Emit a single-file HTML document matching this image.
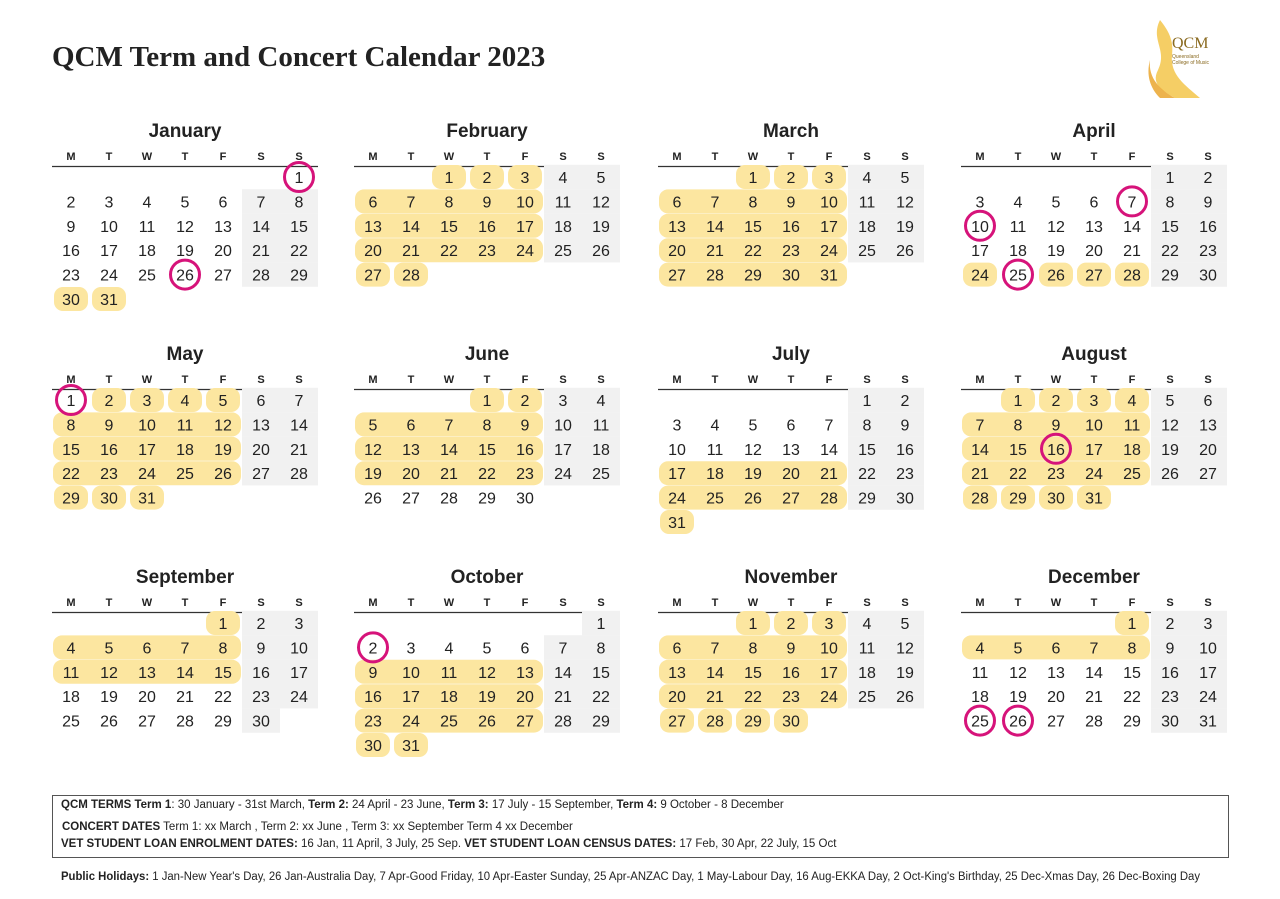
<!DOCTYPE html>
<html><head><meta charset="utf-8"><style>
body{margin:0;background:#fff;}
svg{display:block;font-family:"Liberation Sans",Arial,sans-serif;}
</style></head><body>
<svg id="s" width="1280" height="899" xmlns="http://www.w3.org/2000/svg">
<rect width="1280" height="899" fill="#fff"/>
<text x="52" y="66" font-family="Liberation Serif,serif" font-weight="bold" font-size="29" fill="#222">QCM Term and Concert Calendar 2023</text>
<g>
<path d="M1160 20 C1150 40 1168 50 1158 70 C1150 85 1165 92 1175 98 L1200 98 C1185 85 1170 75 1172 55 C1174 40 1168 30 1160 20Z" fill="#f3c64a" opacity="0.85"/>
<path d="M1150 60 C1148 78 1160 90 1175 98 L1160 98 C1150 88 1146 75 1150 60Z" fill="#e8a020" opacity="0.8"/>
<text x="1172" y="48" font-family="Liberation Serif,serif" font-size="16" fill="#8a6a20">QCM</text>
<text x="1172" y="58" font-size="5" fill="#8a6a20">Queensland</text>
<text x="1172" y="64" font-size="5" fill="#8a6a20">College of Music</text>
</g>
<g id="cal"></g>
<rect x="52.5" y="795.5" width="1176" height="62" fill="none" stroke="#555" stroke-width="1"/>
<text font-family="Liberation Sans Narrow,Liberation Sans,sans-serif" font-size="11.5" fill="#222">
<tspan x="61" y="808"><tspan font-weight="bold">QCM TERMS   Term 1</tspan>: 30 January - 31st March, <tspan font-weight="bold">Term 2:</tspan> 24 April - 23 June, <tspan font-weight="bold">Term 3:</tspan> 17 July - 15 September, <tspan font-weight="bold">Term 4:</tspan> 9 October - 8 December</tspan>
<tspan x="62" y="830"><tspan font-weight="bold">CONCERT DATES</tspan>  Term 1: xx March , Term 2: xx June , Term 3: xx September Term 4 xx December</tspan>
<tspan x="61" y="847"><tspan font-weight="bold">VET STUDENT LOAN ENROLMENT DATES:</tspan> 16 Jan, 11 April, 3 July, 25 Sep.  <tspan font-weight="bold">VET STUDENT LOAN CENSUS DATES:</tspan> 17 Feb, 30 Apr, 22 July, 15 Oct</tspan>
</text>
<text x="61" y="880" textLength="1139" lengthAdjust="spacingAndGlyphs" font-size="11.5" fill="#222"><tspan font-weight="bold">Public Holidays:</tspan> 1 Jan-New Year's Day, 26 Jan-Australia Day, 7 Apr-Good Friday, 10 Apr-Easter Sunday, 25 Apr-ANZAC Day, 1 May-Labour Day, 16 Aug-EKKA Day, 2 Oct-King's Birthday, 25 Dec-Xmas Day, 26 Dec-Boxing Day</text>
</svg>
<script>
(function(){
var NS="http://www.w3.org/2000/svg",g=document.getElementById("cal");
var names=["January","February","March","April","May","June","July","August","September","October","November","December"];
var dl=["M","T","W","T","F","S","S"];
var hol={"0-1":1,"0-26":1,"3-7":1,"3-10":1,"3-25":1,"4-1":1,"7-16":1,"9-2":1,"11-25":1,"11-26":1};
var terms=[[new Date(2023,0,30),new Date(2023,2,31)],[new Date(2023,3,24),new Date(2023,5,23)],[new Date(2023,6,17),new Date(2023,8,15)],[new Date(2023,9,9),new Date(2023,11,8)]];
function el(n,a,t){var e=document.createElementNS(NS,n);for(var k in a)e.setAttribute(k,a[k]);if(t!=null)e.textContent=t;g.appendChild(e);return e;}
var cx=[0,302,606,909];
var L1=[],L2=[],L3=[];
var Y="#fce6a0";
for(var m=0;m<12;m++){
 var ox=71+cx[m%4],oy=Math.floor(m/4)*223;
 el("text",{x:ox+114,y:oy+137,"text-anchor":"middle","font-weight":"bold","font-size":"19",fill:"#222"},names[m]);
 for(var i=0;i<7;i++)el("text",{x:ox+i*38,y:oy+160,"text-anchor":"middle","font-weight":"bold","font-size":"11",fill:"#222"},dl[i]);
 el("line",{x1:ox-19,y1:oy+166.5,x2:ox+247,y2:oy+166.5,stroke:"#333","stroke-width":"1.2"});
 var first=(new Date(2023,m,1).getDay()+6)%7,nd=new Date(2023,m+1,0).getDate();
 var rows={};
 for(var d=1;d<=nd;d++){
  var p=first+d-1,c=p%7,r=Math.floor(p/7);
  var x=ox+c*38,y=oy+177+r*24.4;
  if(c>=5&&!(m==0&&d==1))L1.push(["rect",{x:x-19,y:y-12.2,width:38,height:24.4,fill:"#f1f1f1"}]);
  var dt=new Date(2023,m,d),key=m+"-"+d,inT=false;
  terms.forEach(function(t){if(dt>=t[0]&&dt<=t[1])inT=true;});
  if(inT&&c<5&&!(hol[key]&&m!=7)){(rows[r]=rows[r]||[]).push([x,y]);}
  L3.push(["text",{x:x,y:y+6,"text-anchor":"middle","font-size":"16",fill:"#222"},d]);
  if(hol[key])L3.push(["circle",{cx:x,cy:y,r:14.5,fill:"none",stroke:"#d6137a","stroke-width":"3"}]);
 }
 for(var r in rows){var a=rows[r];
  if(a.length==5){L2.push(["rect",{x:a[0][0]-18,y:a[0][1]-12,width:a[4][0]-a[0][0]+36,height:24,rx:9,fill:Y}]);}
  else a.forEach(function(q){L2.push(["rect",{x:q[0]-17,y:q[1]-12,width:34,height:24,rx:9,fill:Y}]);});
 }
}
L1.concat(L2,L3).forEach(function(a){el(a[0],a[1],a[2]);});
})();
</script>
</body></html>
